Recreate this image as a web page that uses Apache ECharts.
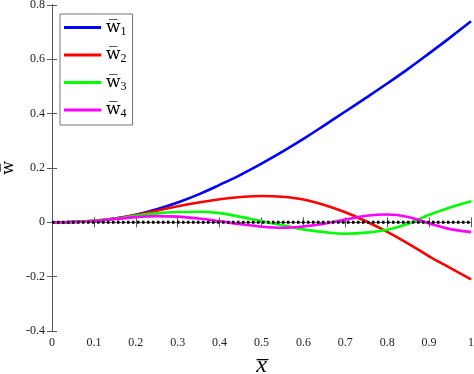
<!DOCTYPE html>
<html><head><meta charset="utf-8">
<script src="https://cdn.jsdelivr.net/npm/echarts@6/dist/echarts.min.js"></script>
<style>html,body{margin:0;padding:0;background:#fff}#c{width:474px;height:374px}</style>
</head><body><div id="c"></div>
<script>
const xs = [0,0.05,0.1,0.15,0.2,0.25,0.3,0.35,0.4,0.45,0.5,0.55,0.6,0.65,0.7,0.75,0.8,0.85,0.9,0.95,1];
const w1 = [0,0.001,0.005,0.014,0.028,0.048,0.073,0.103,0.138,0.175,0.216,0.26,0.307,0.357,0.408,0.459,0.511,0.565,0.622,0.68,0.74];
const w2 = [0,0.001,0.006,0.014,0.027,0.043,0.059,0.073,0.085,0.093,0.097,0.094,0.084,0.064,0.037,0.003,-0.035,-0.078,-0.125,-0.168,-0.21];
const w3 = [0,0.001,0.006,0.013,0.024,0.033,0.038,0.039,0.034,0.02,0.004,-0.011,-0.026,-0.036,-0.042,-0.038,-0.027,-0.005,0.028,0.055,0.078];
const w4 = [0,0.001,0.005,0.012,0.019,0.023,0.021,0.014,0.004,-0.007,-0.016,-0.02,-0.015,-0.005,0.01,0.024,0.029,0.02,-0.004,-0.025,-0.036];
const zeroLine = [0,0];
const zeroX = [0,1];
const names = ['1','2','3','4'];
const colors = ['#0000ff','#ff0000','#00ff00','#ff00ff'];
const xTicks = ['0','0.1','0.2','0.3','0.4','0.5','0.6','0.7','0.8','0.9','1'];
const yTicks = ['-0.4','-0.2','0','0.2','0.4','0.6','0.8'];

const pair = (arr) => xs.map((x,i)=>[x,arr[i]]);
const serif = 'Liberation Serif';
const axisColor = '#5a5a5a';
const chart = echarts.init(document.getElementById('c'), null, {renderer:'canvas'});
const labFmt = (list, min, step) => v => { const i = Math.round((v-min)/step); return list[i] !== undefined ? list[i] : ''; };

const baseAxis = {
  axisLine:{show:true, lineStyle:{color:axisColor, width:1}},
  axisTick:{show:true, inside:true, length:5, lineStyle:{color:axisColor}},
  splitLine:{show:false}
};
const series = [w1,w2,w3,w4].map((d,i)=>({
  name: 'w'+names[i], type:'line', data: pair(d), smooth:0.4, symbol:'none',
  lineStyle:{color:colors[i], width:2.6}, itemStyle:{color:colors[i]}, z: 3
}));
series.push({
  name:'zero', type:'line', data: zeroX.map((x,i)=>[x,zeroLine[i]]), symbol:'none',
  lineStyle:{color:'#000', width:3, type:[2.5,2.5]}, z:4, silent:true
});

chart.setOption({
  animation:false,
  backgroundColor:'#fff',
  grid:{left:52, right:3, top:5, bottom:43, containLabel:false, outerBoundsMode:'none'},
  graphic:[{
    type:'text', left:1, top:161, rotation:Math.PI/2,
    style:{text:'w\u0305', font:'16px "DejaVu Serif"', fill:'#000'}
  }],
  legend:{
    data: names.map(n=>({name:'w'+n, icon:'rect'})), orient:'vertical', left:60, top:14,
    itemWidth:37, itemHeight:3, itemGap:9,
    backgroundColor:'#fff', borderColor:'#777', borderWidth:1, borderRadius:0,
    padding:[5,6,5,4],
    formatter: n => '{w|w\u0305}{s|' + n.slice(1) + '}',
    textStyle:{ rich:{
      w:{fontFamily:'DejaVu Serif', fontSize:17, color:'#000', padding:[0,0,0,0]},
      s:{fontFamily:serif, fontSize:12, color:'#000', verticalAlign:'bottom', padding:[8,0,0,0]}
    }}
  },
  xAxis:[
    Object.assign({}, baseAxis, {type:'value', min:0, max:1, interval:0.1, position:'bottom',
      axisLabel:{fontFamily:serif, fontSize:12, color:'#222', margin:6, formatter: labFmt(xTicks,0,0.1)},
      name:'x\u0305', nameLocation:'middle', nameGap:19,
      nameTextStyle:{fontFamily:serif, fontStyle:'italic', fontSize:24, color:'#000'}}),
    Object.assign({}, baseAxis, {type:'value', min:0, max:1, interval:0.1, position:'top', axisLabel:{show:false}})
  ],
  yAxis:[
    Object.assign({}, baseAxis, {type:'value', min:-0.4, max:0.8, interval:0.2, position:'left',
      axisLabel:{fontFamily:serif, fontSize:12, color:'#222', margin:7, formatter: labFmt(yTicks,-0.4,0.2)}}),
    Object.assign({}, baseAxis, {type:'value', min:-0.4, max:0.8, interval:0.2, position:'right', axisLabel:{show:false}})
  ],
  series: series
});
</script></body></html>
